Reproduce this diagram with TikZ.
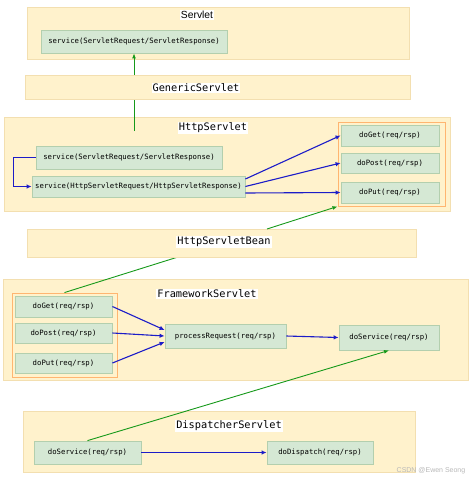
\documentclass[tikz,border=0pt]{standalone}
\usepackage{fontspec}
\setmainfont{Liberation Sans}
\setmonofont{DejaVu Sans Mono}
\usepackage{xcolor}
\usetikzlibrary{arrows.meta}

\definecolor{classfill}{HTML}{FFF2CC}
\definecolor{classline}{HTML}{F3DFB0}
\definecolor{methodfill}{HTML}{D5E8D4}
\definecolor{methodline}{HTML}{B3CFAE}
\definecolor{groupline}{HTML}{FFB570}
\definecolor{callblue}{HTML}{1C1CC8}
\definecolor{extgreen}{HTML}{16991A}

\tikzset{
    classbox/.style={rectangle, fill=classfill, draw=classline, line width=0.8pt, inner sep=0pt},
    classname/.style={fill=white, inner sep=1pt, font=\ttfamily\fontsize{10.3}{12}\selectfont},
    method/.style={rectangle, fill=methodfill, draw=methodline, line width=0.8pt, inner sep=0pt,
        font=\ttfamily\fontsize{7.3}{8.5}\selectfont},
    group/.style={rectangle, draw=groupline, line width=0.9pt, inner sep=0pt},
    call/.style={callblue, line width=1.1pt, -{Latex[length=5pt,width=4.5pt]}},
    extend/.style={extgreen, line width=0.9pt, -{Latex[length=5pt,width=4pt]}}
}

\begin{document}
\begin{tikzpicture}[x=1pt,y=-1pt]
                \useasboundingbox (0,0) rectangle (474,479);

                \node[classbox, minimum width=382pt, minimum height=52pt] (servlet) at (218,33) {};
                \node[classname, font=\fontsize{10.3}{12}\selectfont] (servlet-t) at (197,15) {Servlet};
                \node[method, minimum width=186pt, minimum height=23pt] (ssvc) at (134,41.5) {service(ServletRequest/ServletResponse)};

                \node[classbox, minimum width=446pt, minimum height=94pt] (http) at (227,164) {};
                \node[classname] (http-t) at (213,128) {HttpServlet};
                \node[method, minimum width=186pt, minimum height=23pt] (hsvc1) at (129,157.5) {service(ServletRequest/ServletResponse)};
                \node[method, minimum width=213pt, minimum height=21pt] (hsvc2) at (138.5,186.5) {service(HttpServletRequest/HttpServletResponse)};
                \node[group, minimum width=107pt, minimum height=84pt] (hgroup) at (391.5,164) {};
                \node[method, minimum width=98pt, minimum height=21pt] (hget) at (390,135.5) {doGet(req/rsp)};
                \node[method, minimum width=98pt, minimum height=20pt] (hpost) at (390,163) {doPost(req/rsp)};
                \node[method, minimum width=98pt, minimum height=21pt] (hput) at (390,192.5) {doPut(req/rsp)};

                \coordinate (http-up) at (134,131);
                \draw[extend] (http-up) -- (ssvc.south);

                \node[classbox, minimum width=385pt, minimum height=24pt] (generic) at (217.5,87) {};
                \node[classname] (generic-t) at (196,88) {GenericServlet};

                \draw[call] (hsvc1.west) -- ++(-22,0) |- (hsvc2.west);
                \draw[call] ([yshift=7.5pt]hsvc2.east) -- (hget.west);
                \draw[call] (hsvc2.east) -- (hpost.west);
                \draw[call] ([yshift=-6.5pt]hsvc2.east) -- (hput.west);

                \node[classbox, minimum width=465pt, minimum height=101pt] (frame) at (235.5,329.5) {};
                \node[classname] (frame-t) at (207,294) {FrameworkServlet};
                \node[group, minimum width=105pt, minimum height=84pt] (fgroup) at (64.5,335) {};
                \node[method, minimum width=97pt, minimum height=21pt] (fget) at (63.5,306.5) {doGet(req/rsp)};
                \node[method, minimum width=97pt, minimum height=20pt] (fpost) at (63.5,333) {doPost(req/rsp)};
                \node[method, minimum width=97pt, minimum height=20pt] (fput) at (63.5,363) {doPut(req/rsp)};
                \node[method, minimum width=121pt, minimum height=24pt] (proc) at (225.5,336) {processRequest(req/rsp)};
                \node[method, minimum width=100pt, minimum height=25pt] (fsvc) at (389,337.5) {doService(req/rsp)};

                \draw[call] (fget.east) -- ([yshift=6pt]proc.west);
                \draw[call] (fpost.east) -- (proc.west);
                \draw[call] (fput.east) -- ([yshift=-6pt]proc.west);
                \draw[call] (proc.east) -- (fsvc.west);

                \coordinate (bean-down) at (178,257);
                \draw[extgreen, line width=0.9pt] (fgroup.north) -- (bean-down);

                \node[classbox, minimum width=389pt, minimum height=28pt] (bean) at (221.5,243) {};
                \node[classname] (bean-t) at (224,242) {HttpServletBean};
                \coordinate (bean-up) at (267,229);
                \draw[extend] (bean-up) -- (hgroup.south west);

                \node[classbox, minimum width=392pt, minimum height=61pt] (disp) at (219,441.5) {};
                \node[classname] (disp-t) at (229,426) {DispatcherServlet};
                \node[method, minimum width=107pt, minimum height=23pt] (dsvc) at (87.5,452.5) {doService(req/rsp)};
                \node[method, minimum width=106pt, minimum height=23pt] (ddisp) at (320,452.5) {doDispatch(req/rsp)};

                \draw[call] (dsvc.east) -- (ddisp.west);
                \draw[extend] (dsvc.north) -- (fsvc.south);

                \node[text=black!28, font=\fontsize{7}{8}\selectfont] (mark) at (431,471) {CSDN @Ewen Seong};
            \end{tikzpicture}
\end{document}
